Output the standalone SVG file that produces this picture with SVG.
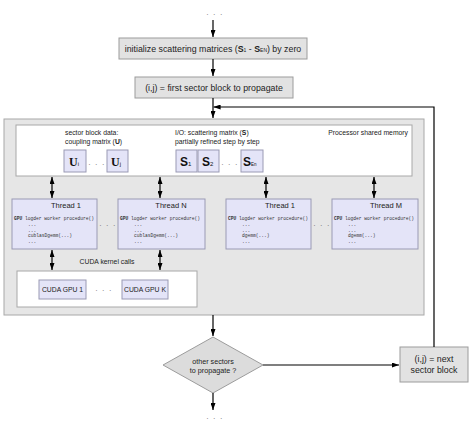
<svg xmlns="http://www.w3.org/2000/svg" width="474" height="430" viewBox="0 0 474 430">
<style>
text{font-family:"Liberation Sans",Arial,sans-serif;fill:#222;}
.lbl{font-size:8.8px;}
.sm{font-size:6.8px;}
.ttl{font-size:7.5px;}
.mid{text-anchor:middle;}
.gbox{fill:#e2e2e2;stroke:#9c9c9c;stroke-width:1;}
.outer{fill:#e6e6e6;stroke:#a8a8a8;stroke-width:1;}
.wbox{fill:#ffffff;stroke:#a8a8a8;stroke-width:1;}
.pbox{fill:#e4e4f8;stroke:#9a9ab4;stroke-width:1;}
.mono{font-family:"Liberation Mono","DejaVu Sans Mono",monospace;font-size:4.6px;fill:#333;}
.b{font-weight:bold;}
.big{font-family:"Liberation Sans",Arial,sans-serif;font-weight:bold;font-size:12px;fill:#111;}
.ubig{font-family:"Liberation Serif","Times New Roman",serif;font-weight:bold;font-size:12px;fill:#111;}
.sub{font-size:6px;font-weight:normal;}
.edge{stroke:#000;stroke-width:1.2;fill:none;}
.dots{font-size:7px;fill:#555;letter-spacing:1.5px;}
</style>
<defs>
<marker id="ah" viewBox="0 0 7 5" refX="7" refY="2.5" markerWidth="7" markerHeight="5" markerUnits="userSpaceOnUse" orient="auto-start-reverse">
<path d="M0,0 L7,2.5 L0,5 z" fill="#000"/>
</marker>
</defs>

<g id="start-dots"><text class="dots mid" x="215" y="15">. . .</text></g>

<g id="init">
<rect class="gbox" x="119" y="38" width="188" height="21"/>
<text class="lbl mid" x="213" y="51.5">initialize scattering matrices (<tspan class="b">S</tspan><tspan font-size="5px">1</tspan> - <tspan class="b">S</tspan><tspan font-size="5px">EN</tspan>) by zero</text>
</g>

<g id="first">
<rect class="gbox" x="135" y="77" width="158" height="21"/>
<text class="lbl mid" x="214" y="90.5">(i,j) = first sector block to propagate</text>
</g>

<g id="processor">
<rect class="outer" x="4" y="119" width="420" height="196"/>
</g>

<g id="shared-memory">
<rect class="wbox" x="16" y="125" width="396" height="51"/>
<text class="sm" x="408" y="135" text-anchor="end" font-size="7.1px">Processor shared memory</text>
<text class="sm" x="65" y="135">sector block data:</text>
<text class="sm" x="65" y="144">coupling matrix (<tspan class="b">U</tspan>)</text>
<text class="sm" x="175" y="135">I/O: scattering matrix (<tspan class="b">S</tspan>)</text>
<text class="sm" x="175" y="144">partially refined step by step</text>
<g id="Ui"><rect class="pbox" x="64" y="150" width="22" height="22"/><text class="ubig" x="69" y="166">U<tspan class="sub" font-family="Liberation Sans">i</tspan></text></g>
<text class="dots mid" x="97" y="165">. . .</text>
<g id="Uj"><rect class="pbox" x="107" y="150" width="21" height="22"/><text class="ubig" x="111" y="166">U<tspan class="sub" font-family="Liberation Sans">j</tspan></text></g>
<g id="S1"><rect class="pbox" x="176" y="150" width="21" height="22"/><text class="big" x="180" y="166">S<tspan class="sub">1</tspan></text></g>
<g id="S2"><rect class="pbox" x="198" y="150" width="21" height="22"/><text class="big" x="202" y="166">S<tspan class="sub">2</tspan></text></g>
<text class="dots mid" x="230" y="165">. . .</text>
<g id="SEn"><rect class="pbox" x="241" y="150" width="22" height="22"/><text class="big" x="243" y="166">S<tspan font-size="4.5px" font-weight="normal">En</tspan></text></g>
</g>

<g id="gpu-thread-1">
<rect class="pbox" x="12" y="199" width="85" height="50"/>
<text class="ttl mid" x="66" y="208">Thread 1</text>
<text class="mono" x="14" y="220"><tspan font-weight="bold">GPU</tspan> logder worker procedure()</text>
<text class="mono" x="28" y="226">...</text>
<text class="mono" x="28" y="231.5">...</text>
<text class="mono" x="28" y="237">cublasDgemm(...)</text>
<text class="mono" x="28" y="242.5">...</text>
</g>
<text class="dots mid" x="108" y="226">. . .</text>
<g id="gpu-thread-n">
<rect class="pbox" x="118" y="199" width="87" height="50"/>
<text class="ttl mid" x="171" y="208">Thread N</text>
<text class="mono" x="120" y="220"><tspan font-weight="bold">GPU</tspan> logder worker procedure()</text>
<text class="mono" x="134" y="226">...</text>
<text class="mono" x="134" y="231.5">...</text>
<text class="mono" x="134" y="237">cublasDgemm(...)</text>
<text class="mono" x="134" y="242.5">...</text>
</g>
<g id="cpu-thread-1">
<rect class="pbox" x="226" y="199" width="85" height="50"/>
<text class="ttl mid" x="280" y="208">Thread 1</text>
<text class="mono" x="228" y="220"><tspan font-weight="bold">CPU</tspan> logder worker procedure()</text>
<text class="mono" x="242" y="226">...</text>
<text class="mono" x="242" y="231.5">...</text>
<text class="mono" x="242" y="237">dgemm(...)</text>
<text class="mono" x="242" y="242.5">...</text>
</g>
<text class="dots mid" x="322" y="226">. . .</text>
<g id="cpu-thread-m">
<rect class="pbox" x="332" y="199" width="86" height="50"/>
<text class="ttl mid" x="386" y="208">Thread M</text>
<text class="mono" x="334" y="220"><tspan font-weight="bold">CPU</tspan> logder worker procedure()</text>
<text class="mono" x="348" y="226">...</text>
<text class="mono" x="348" y="231.5">...</text>
<text class="mono" x="348" y="237">dgemm(...)</text>
<text class="mono" x="348" y="242.5">...</text>
</g>

<text class="sm mid" x="107" y="264">CUDA kernel calls</text>

<g id="gpus">
<rect class="wbox" x="17" y="271" width="180" height="36"/>
<g id="gpu-1"><rect class="pbox" x="39" y="280" width="47" height="19"/><text class="sm mid" x="62.5" y="292">CUDA GPU 1</text></g>
<text class="dots mid" x="104" y="291">. . .</text>
<g id="gpu-k"><rect class="pbox" x="122" y="280" width="46" height="19"/><text class="sm mid" x="145" y="292">CUDA GPU K</text></g>
</g>

<g id="decision">
<polygon points="213,337 263,365 213,393 163,365" fill="#dcdcdc" stroke="#9c9c9c" stroke-width="1"/>
<text class="mid" font-size="7.2px" x="213" y="364">other sectors</text>
<text class="mid" font-size="7.2px" x="213" y="373">to propagate ?</text>
</g>

<g id="next">
<rect class="gbox" x="400" y="347" width="68" height="35"/>
<text class="lbl mid" x="434" y="362">(i,j) = next</text>
<text class="lbl mid" x="434" y="373">sector block</text>
</g>

<g id="end-dots"><text class="dots mid" x="215" y="419">. . .</text></g>

<g id="connectors">
<line class="edge" x1="213" y1="20" x2="213" y2="37" marker-end="url(#ah)"/>
<line class="edge" x1="213" y1="59" x2="213" y2="76" marker-end="url(#ah)"/>
<line class="edge" x1="213" y1="98" x2="213" y2="118" marker-end="url(#ah)"/>
<path class="edge" d="M434,347 L434,107 L213.6,107" marker-end="url(#ah)"/>
<line class="edge" x1="52" y1="177" x2="52" y2="198" marker-start="url(#ah)" marker-end="url(#ah)"/>
<line class="edge" x1="160" y1="177" x2="160" y2="198" marker-start="url(#ah)" marker-end="url(#ah)"/>
<line class="edge" x1="266" y1="177" x2="266" y2="198" marker-start="url(#ah)" marker-end="url(#ah)"/>
<line class="edge" x1="374" y1="177" x2="374" y2="198" marker-start="url(#ah)" marker-end="url(#ah)"/>
<line class="edge" x1="52" y1="250" x2="52" y2="270" marker-start="url(#ah)" marker-end="url(#ah)"/>
<line class="edge" x1="160" y1="250" x2="160" y2="270" marker-start="url(#ah)" marker-end="url(#ah)"/>
<line class="edge" x1="213" y1="315" x2="213" y2="336" marker-end="url(#ah)"/>
<line class="edge" x1="213" y1="393" x2="213" y2="410" marker-end="url(#ah)"/>
<line class="edge" x1="263" y1="365" x2="399" y2="365" marker-end="url(#ah)"/>
</g>
</svg>
